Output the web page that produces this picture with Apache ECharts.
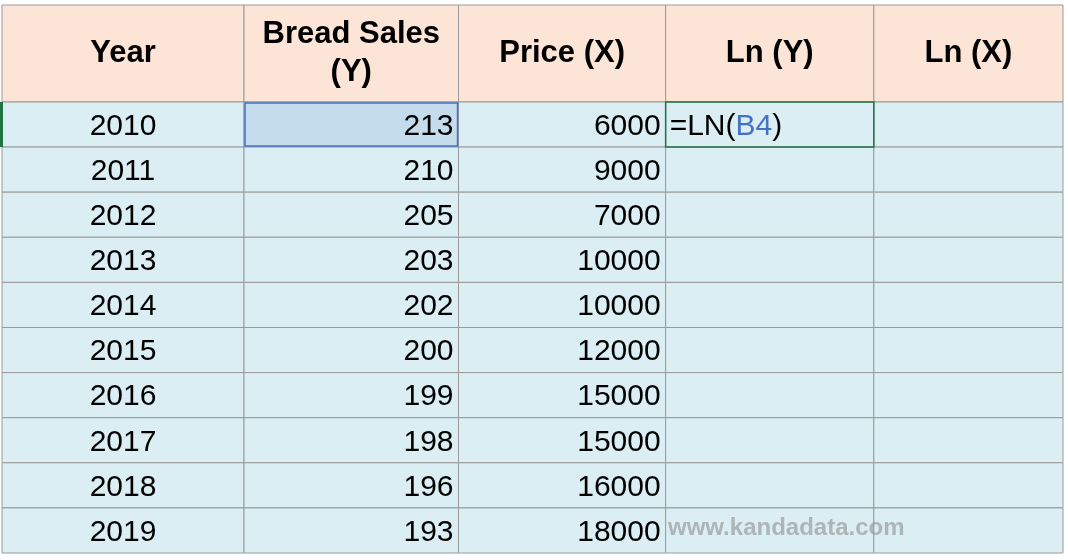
<!DOCTYPE html>
<html><head><meta charset="utf-8">
<script src="https://cdn.jsdelivr.net/npm/echarts@6/dist/echarts.min.js"></script>
<style>html,body{margin:0;padding:0;background:#fff}#c{width:1068px;height:560px}</style>
</head><body><div id="c"></div>
<script>
const headers = ['Year', 'Bread Sales\n(Y)', 'Price (X)', 'Ln (Y)', 'Ln (X)'];
const years = [2010, 2011, 2012, 2013, 2014, 2015, 2016, 2017, 2018, 2019];
const sales = [213, 210, 205, 203, 202, 200, 199, 198, 196, 193];
const price = [6000, 9000, 7000, 10000, 10000, 12000, 15000, 15000, 16000, 18000];

// layout: relative column boundaries (axis units)
const COL_EDGES = [0, 1.145, 2.16, 3.14, 4.125, 5.02];

const cells = [];
headers.forEach((h, c) => cells.push([c, -1, h, 'head']));
years.forEach((y, r) => {
  cells.push([0, r, String(y), 'center']);
  cells.push([1, r, String(sales[r]), r === 0 ? 'rightSel' : 'right']);
  cells.push([2, r, String(price[r]), 'right']);
  cells.push([3, r, r === 0 ? '=LN(B4)' : '', r === 0 ? 'formula' : 'empty']);
  cells.push([4, r, '', 'empty']);
});

const font = 'Arial, "Liberation Sans", sans-serif';
const chart = echarts.init(document.getElementById('c'));
chart.setOption({
  animation: false,
  grid: { left: 2, right: 5, top: 5, bottom: 7 },
  xAxis: { type: 'value', min: 0, max: 5.02, show: false },
  yAxis: { type: 'value', min: -2.15, max: 10, inverse: true, show: false },
  series: [{
    type: 'custom',
    data: cells,
    renderItem: function (params, api) {
      const c = api.value(0), r = api.value(1);
      const kind = cells[params.dataIndex][3];
      const text = cells[params.dataIndex][2];
      const y0 = r < 0 ? -2.15 : r, y1 = r < 0 ? 0 : r + 1;
      const p0 = api.coord([COL_EDGES[c], y0]), p1 = api.coord([COL_EDGES[c + 1], y1]);
      const x = p0[0], y = Math.min(p0[1], p1[1]);
      const w = p1[0] - p0[0], h = Math.abs(p1[1] - p0[1]);
      let fill = r < 0 ? '#fce4d6' : '#daeef3';
      if (kind === 'rightSel') fill = '#c5dced';
      const children = [{
        type: 'rect', shape: { x, y, width: w, height: h },
        style: { fill, stroke: '#9a9a9a', lineWidth: 1 }
      }];
      if (kind === 'rightSel') children.push({ type: 'rect', z2: 5, shape: { x: x + 1, y: y + 1, width: w - 2, height: h - 2 }, style: { fill: null, stroke: '#4472c4', lineWidth: 1.5 } });
      if (kind === 'formula') children.push({ type: 'rect', z2: 5, shape: { x: x, y: y, width: w, height: h }, style: { fill: null, stroke: '#217346', lineWidth: 1.5 } });
      if (kind === 'head') {
        children.push({ type: 'text', z2: 10, style: { text, x: x + w / 2, y: y + h / 2, align: 'center', verticalAlign: 'middle', font: 'bold 31px ' + font, lineHeight: 38, fill: '#000' } });
      } else if (kind === 'center') {
        children.push({ type: 'text', z2: 10, style: { text, x: x + w / 2, y: y + h / 2 + 2, align: 'center', verticalAlign: 'middle', font: '30px ' + font, fill: '#000' } });
      } else if (kind === 'right' || kind === 'rightSel') {
        children.push({ type: 'text', z2: 10, style: { text, x: x + w - 5, y: y + h / 2 + 2, align: 'right', verticalAlign: 'middle', font: '30px ' + font, fill: '#000' } });
      } else if (kind === 'formula') {
        children.push({ type: 'text', z2: 10, style: { text: '{a|=LN(}{b|B4}{a|)}', x: x + 4, y: y + h / 2 + 2, align: 'left', verticalAlign: 'middle',
          rich: { a: { font: '30px ' + font, fill: '#000' }, b: { font: '30px ' + font, fill: '#4472c4' } } } });
      }
      return { type: 'group', children };
    }
  }],
  graphic: [
    { type: 'rect', z: 100, left: 0, top: 102, shape: { width: 3, height: 45 }, style: { fill: '#217346' } },
    { type: 'text', z: 100, left: 668, top: 516, style: { text: 'www.kandadata.com', font: 'bold 24px ' + font, fill: 'rgba(150,150,150,0.65)' } }
  ]
});
</script></body></html>
